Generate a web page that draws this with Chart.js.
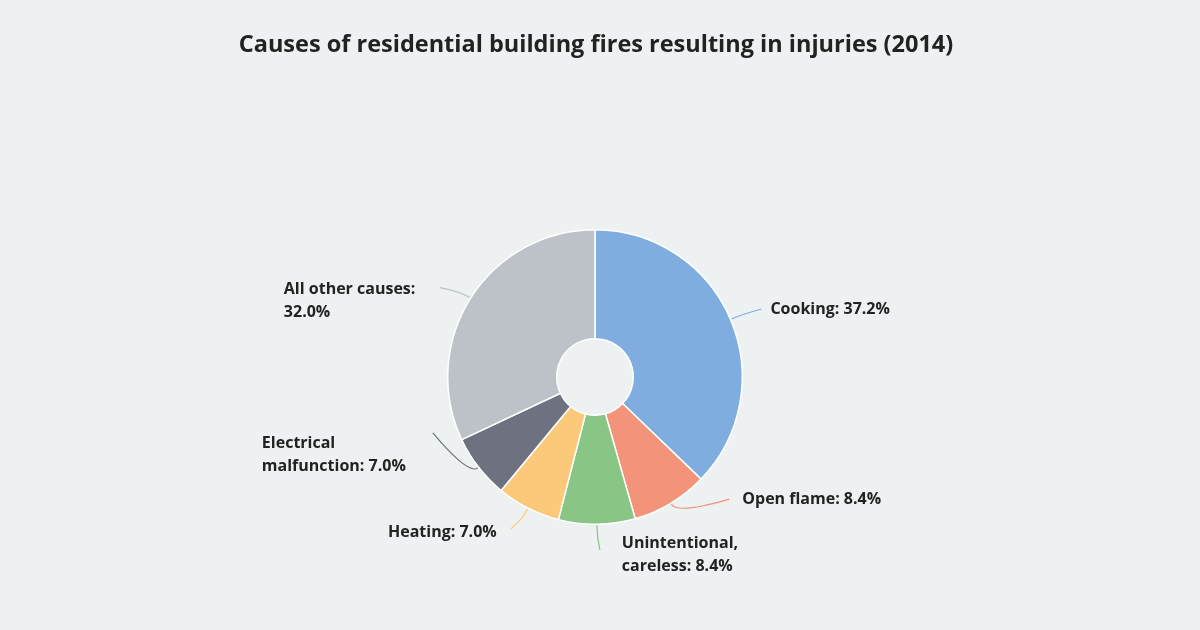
<!DOCTYPE html>
<html>
<head>
<meta charset="utf-8">
<script src="https://cdn.jsdelivr.net/npm/chart.js@4/dist/chart.umd.min.js"></script>
<style>
  body { margin: 0; background: #edf1f2; }
  #wrap { width: 1200px; height: 630px; }
</style>
</head>
<body>
<div id="wrap"><canvas id="fires" width="1200" height="630"></canvas></div>
<script>
const causes = ['Cooking', 'Open flame', 'Unintentional, careless', 'Heating', 'Electrical malfunction', 'All other causes'];
const shares = [37.2, 8.4, 8.4, 7.0, 7.0, 32.0];
const labelLines = [
  ['Cooking: 37.2%'],
  ['Open flame: 8.4%'],
  ['Unintentional,', 'careless: 8.4%'],
  ['Heating: 7.0%'],
  ['Electrical', 'malfunction: 7.0%'],
  ['All other causes:', '32.0%']
];
const colors = ['#80ade0', '#f2937a', '#89c585', '#fbc979', '#6e717f', '#bdc1c8'];

// leader line end (relative to arc edge) and text anchor (relative to line end)
const leaders = [
  { dx: 30, dy: -10, tx: 9, ty: 0, align: 'left' },
  { dx: 58, dy: -5, tx: 13, ty: 0, align: 'left' },
  { dx: 3, dy: 25, tx: 22, ty: 5, align: 'left' },
  { dx: -17, dy: 20, tx: -14, ty: 3, align: 'right' },
  { dx: -45, dy: -35, tx: -171, ty: 22, align: 'left' },
  { dx: -30, dy: -10, tx: -156, ty: 13, align: 'left' }
];

const outLabels = {
  id: 'outLabels',
  afterDraw(chart) {
    const c = chart.ctx;
    c.save();
    c.fillStyle = '#222';
    c.font = 'bold 23.5px "Open Sans"';
    c.textAlign = 'center';
    c.textBaseline = 'middle';
    c.fillText('Causes of residential building fires resulting in injuries (2014)', 596, 45);

    const arcs = chart.getDatasetMeta(0).data;
    arcs.forEach((arc, i) => {
      const mid = (arc.startAngle + arc.endAngle) / 2;
      const r = arc.outerRadius + 1;
      const x0 = arc.x + Math.cos(mid) * r;
      const y0 = arc.y + Math.sin(mid) * r;
      const L = leaders[i];
      const x1 = x0 + L.dx, y1 = y0 + L.dy;
      c.strokeStyle = colors[i];
      c.lineWidth = 1.2;
      c.beginPath();
      c.moveTo(x0, y0);
      c.quadraticCurveTo(x0 + Math.cos(mid) * 12, y0 + Math.sin(mid) * 12, x1, y1);
      c.stroke();

      c.fillStyle = '#222';
      c.font = 'bold 16px "Open Sans"';
      c.textAlign = L.align;
      const lines = labelLines[i];
      const startY = y1 + L.ty - (lines.length - 1) * 11.5;
      lines.forEach((t, k) => c.fillText(t, x1 + L.tx, startY + k * 23));
    });
    c.restore();
  }
};

new Chart(document.getElementById('fires'), {
  type: 'doughnut',
  data: {
    labels: causes,
    datasets: [{
      data: shares,
      backgroundColor: colors,
      borderColor: '#ffffff',
      borderWidth: 1.5
    }]
  },
  options: {
    responsive: false,
    animation: false,
    cutout: '26%',
    layout: { padding: { top: 229, bottom: 105, left: 0, right: 10 } },
    plugins: { legend: { display: false }, tooltip: { enabled: false }, title: { display: false } }
  },
  plugins: [outLabels]
});
</script>
</body>
</html>
